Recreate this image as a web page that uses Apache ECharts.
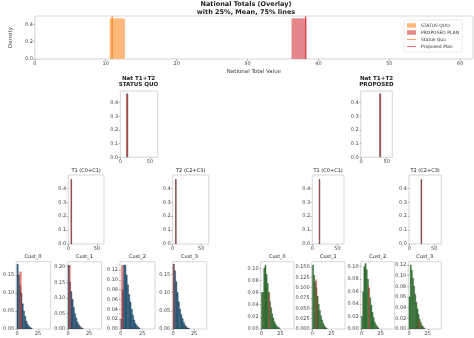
<!DOCTYPE html>
<html><head><meta charset="utf-8">
<script src="https://cdn.jsdelivr.net/npm/echarts@6/dist/echarts.min.js"></script>
<style>html,body{margin:0;padding:0;background:#fff}#c{width:474px;height:338px}</style>
</head><body><div id="c"></div>
<script>
// ---------- DATA ----------
// Top: national totals overlay
const natSQEdges = [10.55, 12.7];
const natSQDensity = [0.47];
const natPPEdges = [36.2, 38.3];
const natPPDensity = [0.47];
const natSQLine = [10.9];
const natPPLine = [38.2];
const natXTicks = [0, 10, 20, 30, 40, 50, 60];
const natYTicks = [0, 0.2, 0.4];

// Row 2: Nat T1+T2 (status quo / proposed)
const totSQEdges = [10.55, 12.7];
const totSQDensity = [0.465];
const totPPEdges = [36.2, 38.3];
const totPPDensity = [0.465];
const totXTicks = [0, 50];
const totYTicks = [0, 0.1, 0.2, 0.3, 0.4];

// Row 3: T1 / T2
const t1SQEdges = [4.6, 5.9];
const t2SQEdges = [4.9, 6.2];
const t1PPEdges = [13.6, 15.0];
const t2PPEdges = [23.3, 24.7];
const tierDensity = [0.465];

// Row 4: customer histograms (bins start at 0)
const custBinWidth = 1.5;
const custNames = ['Cust_0', 'Cust_1', 'Cust_2', 'Cust_3'];
const sqCust0 = [0.18, 0.15, 0.12, 0.10, 0.07, 0.05, 0.035, 0.022, 0.013, 0.008, 0.004, 0.002];
const sqCust1 = [0.205, 0.15, 0.12, 0.095, 0.07, 0.05, 0.035, 0.022, 0.014, 0.008, 0.004, 0.002];
const sqCust2 = [0.02, 0.08, 0.13, 0.13, 0.11, 0.09, 0.07, 0.055, 0.04, 0.028, 0.018, 0.011, 0.007, 0.004, 0.002];
const sqCust3 = [0.178, 0.16, 0.13, 0.10, 0.075, 0.055, 0.04, 0.028, 0.018, 0.011, 0.006, 0.003, 0.002];
const ppCust0 = [0.06, 0.06, 0.10, 0.105, 0.09, 0.075, 0.06, 0.045, 0.035, 0.025, 0.018, 0.012, 0.008, 0.005, 0.003, 0.002];
const ppCust1 = [0.155, 0.13, 0.115, 0.10, 0.08, 0.06, 0.045, 0.032, 0.022, 0.014, 0.008, 0.004, 0.002];
const ppCust2 = [0.02, 0.06, 0.10, 0.105, 0.095, 0.08, 0.065, 0.05, 0.038, 0.027, 0.018, 0.011, 0.007, 0.004, 0.002];
const ppCust3 = [0.06, 0.12, 0.11, 0.095, 0.08, 0.065, 0.05, 0.038, 0.027, 0.018, 0.012, 0.007, 0.004, 0.002];
// red overlay bars per customer: [left, right, height]
const sqCustRed = [[2.7, 5.5, 0.16], [0.7, 3.0, 0.205], [0.4, 2.7, 0.13], [0.0, 1.3, 0.178]];
const ppCustRed = [[10.0, 11.5, 0.06], [4.2, 6.0, 0.12], [8.5, 10.0, 0.07], [12.2, 14.0, 0.015]];
const custXTicks = [0, 25];
const sqCustYTicks = [[0, 0.05, 0.10, 0.15], [0, 0.05, 0.10, 0.15, 0.20], [0, 0.02, 0.04, 0.06, 0.08, 0.10, 0.12], [0, 0.05, 0.10, 0.15]];
const ppCustYTicks = [[0, 0.02, 0.04, 0.06, 0.08, 0.10], [0, 0.025, 0.05, 0.075, 0.10, 0.125, 0.15], [0, 0.02, 0.04, 0.06, 0.08, 0.10], [0, 0.02, 0.04, 0.06, 0.08, 0.10, 0.12]];

// ---------- BUILD ----------
const FONT = 'DejaVu Sans';
const grids = [], xAxes = [], yAxes = [], series = [], graphics = [];

function dec(ticks) {
  let d = 0;
  ticks.forEach(v => { const s = String(v); const k = s.indexOf('.'); if (k >= 0) d = Math.max(d, s.length - k - 1); });
  return d;
}
function addPanel(p) {
  const i = grids.length;
  grids.push({left: p.l, top: p.t, width: p.w, height: p.h, show: true, borderColor: '#cccccc', borderWidth: 0.8, backgroundColor: '#fff'});
  const yd = p.yd !== undefined ? p.yd : dec(p.yt);
  xAxes.push({type: 'value', gridIndex: i, min: p.xmin, max: p.xmax, splitLine: {show: false},
    axisLine: {show: false},
    axisTick: {show: true, length: 1.8, lineStyle: {color: '#777', width: 0.5}, customValues: p.xt},
    axisLabel: {fontSize: 5, color: '#444', margin: 2, fontFamily: FONT, customValues: p.xt, formatter: v => String(Math.round(v))},
    name: p.xname || '', nameLocation: 'middle', nameGap: p.xnameGap || 8, nameTextStyle: {fontSize: 5.5, color: '#444', fontFamily: FONT}});
  yAxes.push({type: 'value', gridIndex: i, min: 0, max: p.ymax, splitLine: {show: false},
    axisLine: {show: false},
    axisTick: {show: true, length: 1.8, lineStyle: {color: '#777', width: 0.5}, customValues: p.yt},
    axisLabel: {fontSize: 5, color: '#444', margin: 2, fontFamily: FONT, customValues: p.yt, formatter: v => v.toFixed(yd)},
    name: p.yname || '', nameLocation: 'middle', nameGap: p.ynameGap || 12, nameTextStyle: {fontSize: 5.5, color: '#444', fontFamily: FONT}});
  return i;
}
function hist(gi, edges, dens, fill, stroke, lw, name, extra) {
  const data = dens.map((d, k) => [edges[k], edges[k + 1], d]);
  return Object.assign({type: 'custom', name: name, xAxisIndex: gi, yAxisIndex: gi, data: data, silent: true,
    animation: false, clip: true, encode: {x: [0, 1], y: 2}, itemStyle: {color: fill},
    renderItem: (params, api) => {
      const a = api.coord([api.value(0), api.value(2)]);
      const b = api.coord([api.value(1), 0]);
      return {type: 'rect', shape: {x: a[0], y: a[1], width: b[0] - a[0], height: b[1] - a[1]},
        style: {fill: fill, stroke: stroke, lineWidth: lw}};
    }}, extra || {});
}
function uniformEdges(vals, w) { const e = []; for (let k = 0; k <= vals.length; k++) e.push(k * w); return e; }
function vline(gi, x, ymax, color, name, w) {
  return {type: 'line', name: name, xAxisIndex: gi, yAxisIndex: gi, data: [[x, 0], [x, ymax]], symbol: 'none', showSymbol: false,
    silent: true, animation: false, color: color, itemStyle: {color: color}, lineStyle: {color: color, width: w || 1}};
}
function text(x, y, s, size, bold) {
  graphics.push({type: 'text', x: x, y: y, silent: true, style: {text: s, fontSize: size, fontWeight: bold ? 'bold' : 'normal',
    fontFamily: FONT, fill: '#222', align: 'center', verticalAlign: 'middle'}});
}

// Top panel
const NAT_YMAX = 0.497;
let g = addPanel({l: 19.5, t: 16, w: 453.5, h: 43, xmin: 0, xmax: 61.8, xt: natXTicks, ymax: NAT_YMAX, yt: natYTicks, yd: 1,
  xname: 'National Total Value', xnameGap: 9.5, yname: 'Density', ynameGap: 15});
series.push(hist(g, natSQEdges, natSQDensity, '#fdb87c', null, 0, 'STATUS QUO'));
series.push(hist(g, natPPEdges, natPPDensity, '#e5878a', null, 0, 'PROPOSED PLAN'));
series.push(vline(g, natSQLine[0], NAT_YMAX, '#f0801a', 'Status Quo', 1));
series.push(vline(g, natPPLine[0], NAT_YMAX, '#cf3530', 'Proposed Plan', 1));
text(246, 4.5, 'National Totals (Overlay)', 6.5, true);
text(246, 12.2, 'with 25%, Mean, 75% lines', 6.5, true);

// Row 2
const BAR_FILL = '#c4504e', BAR_EDGE = '#5b2222';
g = addPanel({l: 120.3, t: 91, w: 37.4, h: 66.3, xmin: 0, xmax: 63, xt: totXTicks, ymax: 0.486, yt: totYTicks, yd: 1});
series.push(hist(g, totSQEdges, totSQDensity, BAR_FILL, BAR_EDGE, 0.5, 'totSQ'));
text(138.5, 78.2, 'Nat T1+T2', 5.6, true);
text(138.5, 85, 'STATUS QUO', 5.6, true);
g = addPanel({l: 360.7, t: 91, w: 31.6, h: 66.3, xmin: -1, xmax: 61, xt: totXTicks, ymax: 0.486, yt: totYTicks, yd: 1});
series.push(hist(g, totPPEdges, totPPDensity, BAR_FILL, BAR_EDGE, 0.5, 'totPP'));
text(376.5, 78.2, 'Nat T1+T2', 5.6, true);
text(376.5, 85, 'PROPOSED', 5.6, true);

// Row 3
const row3 = [
  {l: 68.3, w: 35.7, xmin: 0, xmax: 62.5, e: t1SQEdges, t: 'T1 (C0+C1)'},
  {l: 172.7, w: 36, xmin: 0, xmax: 63, e: t2SQEdges, t: 'T2 (C2+C3)'},
  {l: 312.3, w: 31.7, xmin: 0, xmax: 63, e: t1PPEdges, t: 'T1 (C0+C1)'},
  {l: 409, w: 32.3, xmin: -1, xmax: 64.5, e: t2PPEdges, t: 'T2 (C2+C3)'}
];
row3.forEach((r, k) => {
  const gi = addPanel({l: r.l, t: 175, w: r.w, h: 69, xmin: r.xmin, xmax: r.xmax, xt: totXTicks, ymax: 0.496, yt: totYTicks, yd: 1});
  series.push(hist(gi, r.e, tierDensity, BAR_FILL, BAR_EDGE, 0.5, 'tier' + k));
  text(r.l + r.w / 2, 170.7, r.t, 5, false);
});

// Row 4
const sqVals = [sqCust0, sqCust1, sqCust2, sqCust3];
const ppVals = [ppCust0, ppCust1, ppCust2, ppCust3];
const sqLayout = [{l: 15.3, w: 35.4, ymax: 0.187}, {l: 67.3, w: 34.4, ymax: 0.216}, {l: 120, w: 35, ymax: 0.137}, {l: 172.3, w: 34.4, ymax: 0.185}];
const ppLayout = [{l: 260.7, w: 33.3, ymax: 0.111}, {l: 311.7, w: 33.3, ymax: 0.163}, {l: 360.7, w: 34, ymax: 0.108}, {l: 408.3, w: 33, ymax: 0.126}];
function custPanel(lay, vals, ticks, red, fill, edge, xmax, name) {
  const gi = addPanel({l: lay.l, t: 261.7, w: lay.w, h: 67.3, xmin: -1, xmax: xmax, xt: custXTicks, ymax: lay.ymax, yt: ticks});
  series.push(hist(gi, uniformEdges(vals, custBinWidth), vals, fill, edge, 0.35, name + 'h'));
  series.push(hist(gi, [red[0], red[1]], [red[2]], 'rgba(214,60,50,0.65)', null, 0, name + 'r'));
  text(lay.l + lay.w / 2, 256.3, name, 5, false);
}
for (let k = 0; k < 4; k++) {
  custPanel(sqLayout[k], sqVals[k], sqCustYTicks[k], sqCustRed[k], '#2f6b94', '#1a2a36', 40, custNames[k]);
  custPanel(ppLayout[k], ppVals[k], ppCustYTicks[k], ppCustRed[k], '#3c8c3c', '#1d3a1d', 43, custNames[k]);
}

const chart = echarts.init(document.getElementById('c'), null, {renderer: 'canvas'});
chart.setOption({
  animation: false,
  backgroundColor: '#ffffff',
  textStyle: {fontFamily: FONT},
  grid: grids, xAxis: xAxes, yAxis: yAxes, series: series,
  graphic: {elements: graphics},
  legend: {
    show: true, orient: 'vertical', left: 404, top: 20, selectedMode: false,
    data: [
      {name: 'STATUS QUO', icon: 'rect'},
      {name: 'PROPOSED PLAN', icon: 'rect'},
      {name: 'Status Quo', icon: 'path://M0 0H20V1.6H0Z'},
      {name: 'Proposed Plan', icon: 'path://M0 0H20V1.6H0Z'}
    ],
    itemWidth: 9, itemHeight: 4.5, itemGap: 2, padding: [3, 3, 3, 3],
    backgroundColor: '#fff', borderColor: '#dddddd', borderWidth: 0.6, borderRadius: 1.5,
    textStyle: {fontSize: 4.5, color: '#333', fontFamily: FONT}
  }
});
</script></body></html>
